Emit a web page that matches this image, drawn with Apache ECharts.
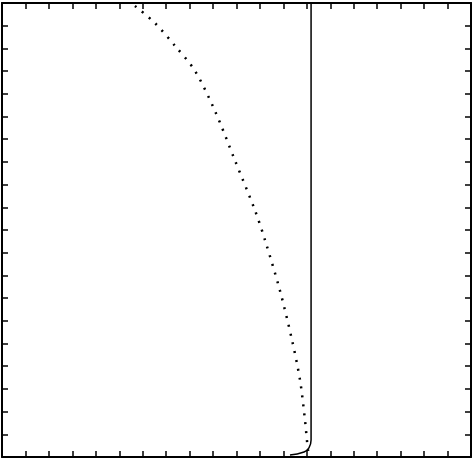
<!DOCTYPE html>
<html>
<head>
<meta charset="UTF-8">
<script src="https://cdn.jsdelivr.net/npm/echarts@6/dist/echarts.min.js"></script>
</head>
<body style="margin:0;background:#fff">
<div id="container" style="width:474px;height:460px"></div>
<script>
var dottedX = [5.67, 6.52, 7.38, 8.23, 9.08, 9.94, 10.79, 11.22, 11.85, 12.37, 12.71, 12.92, 13.05, 13.13];
var dottedY = [19.87, 19.12, 18.11, 17.01, 15.25, 13.05, 10.86, 9.54, 7.34, 5.14, 3.38, 1.63, 0.31, 0];
var solidX = [13.18, 13.18, 13.09, 12.88, 12.28];
var solidY = [20, 0.75, 0.4, 0.22, 0.09];

function pairs(xs, ys) {
    return xs.map(function (x, i) { return [x, ys[i]]; });
}
var axisBase = {
    type: 'value', min: 0, max: 20, interval: 1,
    axisLine: {show: true, onZero: false, lineStyle: {color: '#000', width: 2}},
    axisTick: {show: true, inside: true, length: 6, lineStyle: {color: '#000', width: 1.5}},
    axisLabel: {show: false},
    splitLine: {show: false}
};
function ax(extra) { return Object.assign({}, axisBase, extra); }

var myChart = echarts.init(document.getElementById('container'));
myChart.setOption({
    animation: false,
    grid: {left: 2, right: 3, top: 3, bottom: 3},
    xAxis: [ax({position: 'bottom'}), ax({position: 'top'})],
    yAxis: [ax({position: 'left'}), ax({position: 'right'})],
    series: [
        {
            type: 'line', data: pairs(dottedX, dottedY), symbol: 'none', smooth: 0.3,
            lineStyle: {color: '#000', width: 2.5, type: [2, 7]}
        },
        {
            type: 'line', data: pairs(solidX, solidY), symbol: 'none', smooth: true,
            lineStyle: {color: '#000', width: 1.5}
        },
        {type: 'line', xAxisIndex: 1, yAxisIndex: 1, data: [], symbol: 'none'}
    ]
});
</script>
</body>
</html>
